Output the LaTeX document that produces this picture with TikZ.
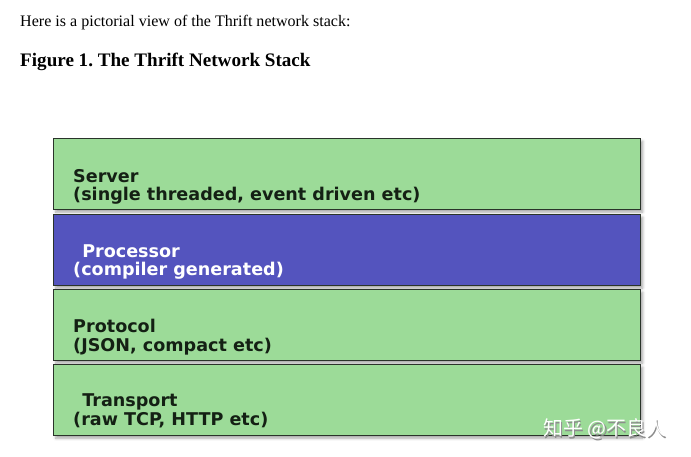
\documentclass[tikz,border=0pt]{standalone}
\usepackage{fontspec}
\setmainfont{Liberation Serif}
\newfontfamily\stackfont{DejaVu Sans}
\newfontfamily\cjk{Noto Sans CJK SC}
\usepackage{tikz}
\usetikzlibrary{shadows.blur}
\definecolor{LayerGreen}{HTML}{9CDB98}
\definecolor{LayerBlue}{HTML}{5454BE}
\definecolor{EdgeGray}{HTML}{2A332A}
\definecolor{InkGreen}{HTML}{142014}
\frenchspacing

\begin{document}
\begin{tikzpicture}[
  x=0.03cm, y=-0.03cm,
  layer/.style={rectangle, draw=EdgeGray, thick, fill=#1, minimum width=17.61cm, minimum height=2.13cm, inner sep=0pt,
    blur shadow={shadow xshift=0.08cm, shadow yshift=-0.08cm, shadow blur radius=0.08cm, shadow opacity=35}},
  label/.style={anchor=west, align=left, inner sep=0pt, font=\stackfont\bfseries\fontsize{15}{15.8}\selectfont, text=#1},
  label/.default=InkGreen
]
\useasboundingbox (0,0) rectangle (691,457);

\node[anchor=base west, inner sep=0pt, font=\fontsize{13.7}{16}\selectfont] (intro) at (20,27) {Here is a pictorial view of the Thrift network stack:};
\node[anchor=base west, inner sep=0pt, font=\bfseries\fontsize{16.3}{19}\selectfont] (title) at (20,67) {Figure 1. The Thrift Network Stack};

\node[layer=LayerGreen] (server) at (346.5,174) {};
\node[label] (serverText) at (73,187) {Server\\(single threaded, event driven etc)};

\node[layer=LayerBlue] (processor) at (346.5,250) {};
\node[label=white] (processorText) at (73,262) {\ \,Processor\\(compiler generated)};

\node[layer=LayerGreen] (protocol) at (346.5,325) {};
\node[label] (protocolText) at (73,337) {Protocol\\(JSON, compact etc)};

\node[layer=LayerGreen] (transport) at (346.5,400) {};
\node[label] (transportText) at (73,411) {\ \,Transport\\(raw TCP, HTTP etc)};

\node[anchor=west, inner sep=0pt, text=black!45, font=\cjk\fontsize{17}{20}\selectfont] at (544.5,430.5) {知乎 @不良人};
\node[anchor=west, inner sep=0pt, text=white, font=\cjk\fontsize{17}{20}\selectfont] (mark) at (543,429) {知乎 @不良人};
\end{tikzpicture}
\end{document}
